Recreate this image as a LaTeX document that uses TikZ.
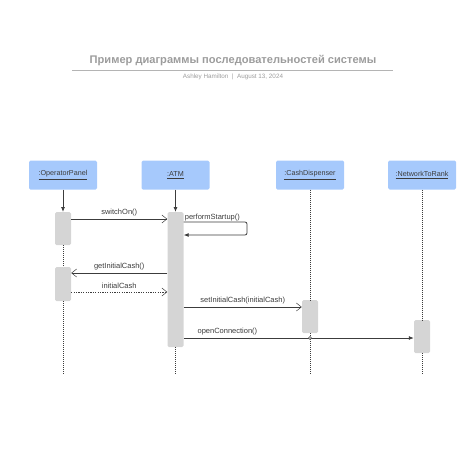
\documentclass[tikz,border=0pt]{standalone}
\usepackage{fontspec}
\setmainfont{Liberation Sans}
\usetikzlibrary{arrows.meta,positioning,calc}
\definecolor{headblue}{HTML}{A6C9FC}
\definecolor{actgray}{HTML}{D5D5D5}
\definecolor{wire}{HTML}{3C3C3C}
\definecolor{titlegray}{HTML}{9C9C9C}
\definecolor{rulegray}{HTML}{B4B4B4}

\begin{document}
\begin{tikzpicture}[x=1pt,y=-1pt,
  head/.style={fill=headblue,rounded corners=1.5pt,minimum width=68pt,minimum height=29pt,inner sep=0,font=\fontsize{7.2}{8}\selectfont,text=wire},
  act/.style={fill=actgray,rounded corners=1.5pt,minimum width=16pt,inner sep=0,anchor=north},
  life/.style={draw=wire,line width=1pt,dash pattern=on 1pt off 1pt},
  lbl/.style={font=\fontsize{7.5}{8}\selectfont,text=wire,inner sep=1pt},
  call/.style={draw=wire,line width=0.8pt,-{Straight Barb[length=5pt,width=8pt,line width=0.5pt]}},
  back/.style={call,dash pattern=on 1.2pt off 1.2pt},
  sync/.style={draw=wire,line width=0.8pt,-{Latex[length=5pt,width=4pt]}}]
  \useasboundingbox (0,0) rectangle (474,474);
  % title
  \node[font=\bfseries\fontsize{11.1}{13}\selectfont,text=titlegray] (title) at (233,61) {Пример диаграммы последовательностей системы};
  \draw[rulegray,line width=1pt] (72,70) -- (393,70);
  \node[font=\fontsize{6.3}{7}\selectfont,text=titlegray] (sub) at (233,77) {Ashley Hamilton \ | \ August 13, 2024};
  % lifeline heads
  \node[head] (op) at (63,175) {\underline{:OperatorPanel}};
  \node[head] (atm) at (175.5,175) {\underline{:ATM}};
  \node[head] (cd) at (310,175) {\underline{:CashDispenser}};
  \node[head] (nr) at (422,175) {\underline{:NetworkToRank}};
  % activations
  \node[act,minimum height=33pt] (op1) at (63,212) {};
  \node[act,minimum height=34pt] (op2) at (63,267) {};
  \node[act,minimum height=135pt] (atm1) at (175.5,212) {};
  \node[act,minimum height=33pt] (cd1) at (310,300) {};
  \node[act,minimum height=33pt] (nr1) at (422,320) {};
  % lifeline ends
  \coordinate (bot) at (0,375);
  \draw[sync] (op) -- (op1);
  \draw[sync] (atm) -- (atm1);
  \draw[life] (op1) -- (op2);
  \draw[life] (op2) -- (op2 |- bot);
  \draw[life] (atm1) -- (atm1 |- bot);
  \draw[life] (cd) -- (cd1);
  \draw[life] (cd1) -- (cd1 |- bot);
  \draw[life] (nr) -- (nr1);
  \draw[life] (nr1) -- (nr1 |- bot);
  % message levels
  \coordinate (ySwitch) at (0,219);
  \coordinate (yStart) at (0,222);
  \coordinate (yStartB) at (0,235);
  \coordinate (yGet) at (0,273);
  \coordinate (yCash) at (0,292);
  \coordinate (ySet) at (0,307);
  \coordinate (yOpen) at (0,338);
  \coordinate (loopR) at (247,0);
  % messages
  \draw[call] (op1.east |- ySwitch) -- node[lbl,above=2pt]{switchOn()} (atm1.west |- ySwitch);
  \draw[sync,rounded corners=2pt] (atm1.east |- yStart) -- (loopR |- yStart) -- (loopR |- yStartB) -- (atm1.east |- yStartB);
  \node[lbl,anchor=south west] (startlbl) at (atm1.east |- yStart) {performStartup()};
  \draw[call] (atm1.west |- yGet) -- node[lbl,above=2pt]{getInitialCash()} (op2.east |- yGet);
  \draw[back] (op2.east |- yCash) -- node[lbl,above=2pt]{initialCash} (atm1.west |- yCash);
  \draw[call] (atm1.east |- ySet) -- node[lbl,above=2pt]{setInitialCash(initialCash)} (cd1.west |- ySet);
  \draw[sync] (atm1.east |- yOpen) -- node[lbl,above=2pt,pos=0.19]{openConnection()} (nr1.west |- yOpen);
  \draw[wire,fill=white,line width=0.5pt] (cd1 |- yOpen) circle (1.5pt);
\end{tikzpicture}
\end{document}
